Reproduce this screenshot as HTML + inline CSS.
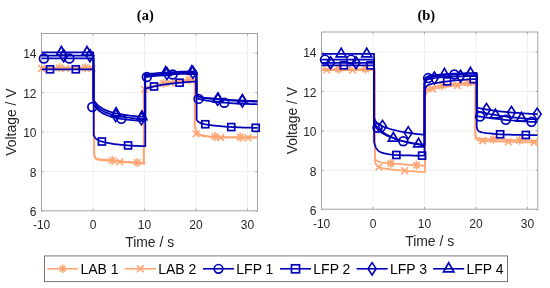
<!DOCTYPE html>
<html><head><meta charset="utf-8"><style>
html,body{margin:0;padding:0;background:#fff;width:550px;height:288px;overflow:hidden}
svg{display:block;position:absolute;left:0;top:0;filter:blur(0.3px)}
.tk{font-family:"Liberation Sans",sans-serif;font-size:12px;fill:#262626}
.lab{font-family:"Liberation Sans",sans-serif;font-size:13.9px;fill:#262626}
.lg{font-family:"Liberation Sans",sans-serif;font-size:14px;fill:#000}
.ttl{font-family:"Liberation Serif",serif;font-weight:bold;font-size:14.5px;fill:#000}
</style></head><body>
<svg width="550" height="288" viewBox="0 0 550 288">
<line x1="93.05" y1="33.50" x2="93.05" y2="210.80" stroke="#f0f0f0" stroke-width="1"/>
<line x1="144.53" y1="33.50" x2="144.53" y2="210.80" stroke="#f0f0f0" stroke-width="1"/>
<line x1="196.01" y1="33.50" x2="196.01" y2="210.80" stroke="#f0f0f0" stroke-width="1"/>
<line x1="247.49" y1="33.50" x2="247.49" y2="210.80" stroke="#f0f0f0" stroke-width="1"/>
<line x1="41.50" y1="171.60" x2="257.50" y2="171.60" stroke="#f0f0f0" stroke-width="1"/>
<line x1="41.50" y1="132.10" x2="257.50" y2="132.10" stroke="#f0f0f0" stroke-width="1"/>
<line x1="41.50" y1="92.60" x2="257.50" y2="92.60" stroke="#f0f0f0" stroke-width="1"/>
<line x1="41.50" y1="53.10" x2="257.50" y2="53.10" stroke="#f0f0f0" stroke-width="1"/>
<rect x="41.50" y="33.50" width="216.00" height="177.30" fill="none" stroke="#a4a4a4" stroke-width="1"/>
<line x1="41.57" y1="210.80" x2="41.57" y2="208.60" stroke="#a4a4a4" stroke-width="1"/>
<line x1="41.57" y1="33.50" x2="41.57" y2="35.70" stroke="#a4a4a4" stroke-width="1"/>
<line x1="93.05" y1="210.80" x2="93.05" y2="208.60" stroke="#a4a4a4" stroke-width="1"/>
<line x1="93.05" y1="33.50" x2="93.05" y2="35.70" stroke="#a4a4a4" stroke-width="1"/>
<line x1="144.53" y1="210.80" x2="144.53" y2="208.60" stroke="#a4a4a4" stroke-width="1"/>
<line x1="144.53" y1="33.50" x2="144.53" y2="35.70" stroke="#a4a4a4" stroke-width="1"/>
<line x1="196.01" y1="210.80" x2="196.01" y2="208.60" stroke="#a4a4a4" stroke-width="1"/>
<line x1="196.01" y1="33.50" x2="196.01" y2="35.70" stroke="#a4a4a4" stroke-width="1"/>
<line x1="247.49" y1="210.80" x2="247.49" y2="208.60" stroke="#a4a4a4" stroke-width="1"/>
<line x1="247.49" y1="33.50" x2="247.49" y2="35.70" stroke="#a4a4a4" stroke-width="1"/>
<line x1="41.50" y1="211.10" x2="43.70" y2="211.10" stroke="#a4a4a4" stroke-width="1"/>
<line x1="257.50" y1="211.10" x2="255.30" y2="211.10" stroke="#a4a4a4" stroke-width="1"/>
<line x1="41.50" y1="171.60" x2="43.70" y2="171.60" stroke="#a4a4a4" stroke-width="1"/>
<line x1="257.50" y1="171.60" x2="255.30" y2="171.60" stroke="#a4a4a4" stroke-width="1"/>
<line x1="41.50" y1="132.10" x2="43.70" y2="132.10" stroke="#a4a4a4" stroke-width="1"/>
<line x1="257.50" y1="132.10" x2="255.30" y2="132.10" stroke="#a4a4a4" stroke-width="1"/>
<line x1="41.50" y1="92.60" x2="43.70" y2="92.60" stroke="#a4a4a4" stroke-width="1"/>
<line x1="257.50" y1="92.60" x2="255.30" y2="92.60" stroke="#a4a4a4" stroke-width="1"/>
<line x1="41.50" y1="53.10" x2="43.70" y2="53.10" stroke="#a4a4a4" stroke-width="1"/>
<line x1="257.50" y1="53.10" x2="255.30" y2="53.10" stroke="#a4a4a4" stroke-width="1"/>
<clipPath id="clip41"><rect x="41.50" y="33.50" width="216.00" height="177.30"/></clipPath>
<path clip-path="url(#clip41)" d="M41.57,67.72 L42.86,67.72 L44.14,67.72 L45.43,67.72 L46.72,67.72 L48.01,67.72 L49.29,67.72 L50.58,67.72 L51.87,67.72 L53.15,67.72 L54.44,67.72 L55.73,67.72 L57.01,67.72 L58.30,67.72 L59.59,67.72 L60.88,67.72 L62.16,67.72 L63.45,67.72 L64.74,67.72 L66.02,67.72 L67.31,67.72 L68.60,67.72 L69.88,67.72 L71.17,67.72 L72.46,67.72 L73.75,67.72 L75.03,67.72 L76.32,67.72 L77.61,67.72 L78.89,67.72 L80.18,67.72 L81.47,67.72 L82.75,67.72 L84.04,67.72 L85.33,67.72 L86.61,67.72 L87.90,67.72 L89.19,67.72 L90.48,67.72 L91.76,67.72 L93.05,67.72 L94.18,67.72 L94.18,152.84 L94.29,153.56 L94.39,154.20 L94.49,154.76 L94.59,155.25 L94.70,155.68 L94.85,156.24 L95.01,156.69 L95.21,157.18 L95.47,157.63 L95.73,157.97 L95.98,158.22 L96.24,158.41 L96.76,158.66 L97.27,158.82 L97.79,158.93 L98.30,159.01 L98.82,159.08 L99.33,159.14 L100.36,159.26 L101.90,159.43 L104.48,159.70 L107.05,159.96 L109.63,160.21 L112.20,160.46 L114.77,160.69 L117.35,160.92 L119.92,161.14 L122.50,161.35 L125.07,161.56 L127.64,161.76 L130.22,161.95 L132.79,162.14 L135.37,162.32 L137.94,162.50 L140.51,162.66 L143.09,162.83 L144.53,162.92 L143.76,162.92 L143.76,89.64 L143.86,89.59 L143.96,89.54 L144.07,89.50 L144.17,89.45 L144.27,89.40 L144.43,89.33 L144.58,89.26 L144.79,89.17 L145.04,89.06 L145.30,88.95 L145.56,88.84 L145.82,88.73 L146.33,88.51 L146.85,88.30 L147.36,88.09 L147.88,87.89 L148.39,87.69 L148.91,87.49 L149.94,87.11 L151.48,86.57 L154.05,85.73 L156.63,84.97 L159.20,84.29 L161.78,83.67 L164.35,83.11 L166.92,82.61 L169.50,82.15 L172.07,81.73 L174.65,81.36 L177.22,81.02 L179.79,80.71 L182.37,80.43 L184.94,80.18 L187.52,79.95 L190.09,79.75 L192.66,79.56 L195.24,79.39 L196.01,79.34 L194.72,79.34 L194.72,124.20 L194.83,124.81 L194.93,125.39 L195.03,125.93 L195.13,126.44 L195.24,126.92 L195.39,127.59 L195.55,128.19 L195.75,128.92 L196.01,129.71 L196.27,130.40 L196.52,130.99 L196.78,131.50 L197.30,132.33 L197.81,132.96 L198.33,133.45 L198.84,133.84 L199.36,134.15 L199.87,134.40 L200.90,134.80 L202.44,135.22 L205.02,135.70 L207.59,136.04 L210.17,136.31 L212.74,136.51 L215.31,136.67 L217.89,136.80 L220.46,136.89 L223.04,136.97 L225.61,137.03 L228.19,137.07 L230.76,137.11 L233.33,137.14 L235.91,137.16 L238.48,137.18 L241.06,137.19 L243.63,137.20 L246.20,137.21 L248.78,137.21 L251.35,137.22 L253.93,137.22 L256.50,137.22 L257.79,137.23" fill="none" stroke="#ffa674" stroke-width="1.75" stroke-linejoin="round"/>
<path d="M59.43,63.18 L59.43,72.25 M54.90,67.72 L63.97,67.72 M56.19,64.48 L62.67,70.95 M56.19,70.95 L62.67,64.48" stroke="#ffa674" stroke-width="1.60"/>
<path d="M85.07,63.18 L85.07,72.25 M80.53,67.72 L89.61,67.72 M81.83,64.48 L88.31,70.95 M81.83,70.95 L88.31,64.48" stroke="#ffa674" stroke-width="1.60"/>
<path d="M112.30,155.93 L112.30,165.00 M107.77,160.47 L116.84,160.47 M109.06,157.23 L115.54,163.71 M109.06,163.71 L115.54,157.23" stroke="#ffa674" stroke-width="1.60"/>
<path d="M137.32,157.92 L137.32,166.99 M132.79,162.45 L141.86,162.45 M134.08,159.21 L140.56,165.69 M134.08,165.69 L140.56,159.21" stroke="#ffa674" stroke-width="1.60"/>
<path d="M163.58,78.74 L163.58,87.82 M159.04,83.28 L168.11,83.28 M160.34,80.04 L166.82,86.52 M160.34,86.52 L166.82,80.04" stroke="#ffa674" stroke-width="1.60"/>
<path d="M189.06,75.29 L189.06,84.36 M184.52,79.83 L193.60,79.83 M185.82,76.59 L192.30,83.07 M185.82,83.07 L192.30,76.59" stroke="#ffa674" stroke-width="1.60"/>
<path d="M214.80,132.11 L214.80,141.18 M210.26,136.64 L219.34,136.64 M211.56,133.40 L218.04,139.88 M211.56,139.88 L218.04,133.40" stroke="#ffa674" stroke-width="1.60"/>
<path d="M240.28,132.65 L240.28,141.72 M235.75,137.18 L244.82,137.18 M237.04,133.94 L243.52,140.42 M237.04,140.42 L243.52,133.94" stroke="#ffa674" stroke-width="1.60"/>
<path clip-path="url(#clip41)" d="M41.57,68.50 L42.86,68.50 L44.14,68.50 L45.43,68.50 L46.72,68.50 L48.01,68.50 L49.29,68.50 L50.58,68.50 L51.87,68.50 L53.15,68.50 L54.44,68.50 L55.73,68.50 L57.01,68.50 L58.30,68.50 L59.59,68.50 L60.88,68.50 L62.16,68.50 L63.45,68.50 L64.74,68.50 L66.02,68.50 L67.31,68.50 L68.60,68.50 L69.88,68.50 L71.17,68.50 L72.46,68.50 L73.75,68.50 L75.03,68.50 L76.32,68.50 L77.61,68.50 L78.89,68.50 L80.18,68.50 L81.47,68.50 L82.75,68.50 L84.04,68.50 L85.33,68.50 L86.61,68.50 L87.90,68.50 L89.19,68.50 L90.48,68.50 L91.76,68.50 L93.05,68.50 L94.18,68.50 L94.18,153.82 L94.29,154.53 L94.39,155.14 L94.49,155.68 L94.59,156.16 L94.70,156.57 L94.85,157.11 L95.01,157.55 L95.21,158.02 L95.47,158.46 L95.73,158.78 L95.98,159.02 L96.24,159.20 L96.76,159.45 L97.27,159.60 L97.79,159.71 L98.30,159.79 L98.82,159.86 L99.33,159.92 L100.36,160.04 L101.90,160.20 L104.48,160.46 L107.05,160.72 L109.63,160.97 L112.20,161.20 L114.77,161.44 L117.35,161.66 L119.92,161.87 L122.50,162.08 L125.07,162.29 L127.64,162.48 L130.22,162.67 L132.79,162.85 L135.37,163.03 L137.94,163.20 L140.51,163.36 L143.09,163.52 L144.53,163.61 L143.76,163.61 L143.76,90.62 L143.86,90.58 L143.96,90.53 L144.07,90.48 L144.17,90.44 L144.27,90.39 L144.43,90.32 L144.58,90.25 L144.79,90.16 L145.04,90.05 L145.30,89.93 L145.56,89.82 L145.82,89.71 L146.33,89.50 L146.85,89.29 L147.36,89.08 L147.88,88.87 L148.39,88.67 L148.91,88.48 L149.94,88.10 L151.48,87.55 L154.05,86.72 L156.63,85.96 L159.20,85.28 L161.78,84.66 L164.35,84.10 L166.92,83.59 L169.50,83.13 L172.07,82.72 L174.65,82.34 L177.22,82.00 L179.79,81.70 L182.37,81.42 L184.94,81.17 L187.52,80.94 L190.09,80.73 L192.66,80.55 L195.24,80.38 L196.01,80.33 L194.72,80.33 L194.72,125.19 L194.83,125.78 L194.93,126.33 L195.03,126.85 L195.13,127.34 L195.24,127.80 L195.39,128.43 L195.55,129.02 L195.75,129.71 L196.01,130.48 L196.27,131.13 L196.52,131.70 L196.78,132.19 L197.30,132.99 L197.81,133.61 L198.33,134.08 L198.84,134.46 L199.36,134.76 L199.87,135.01 L200.90,135.40 L202.44,135.81 L205.02,136.29 L207.59,136.64 L210.17,136.90 L212.74,137.11 L215.31,137.27 L217.89,137.39 L220.46,137.49 L223.04,137.56 L225.61,137.62 L228.19,137.67 L230.76,137.70 L233.33,137.73 L235.91,137.75 L238.48,137.77 L241.06,137.78 L243.63,137.79 L246.20,137.80 L248.78,137.81 L251.35,137.81 L253.93,137.81 L256.50,137.82 L257.79,137.82" fill="none" stroke="#ffa674" stroke-width="1.75" stroke-linejoin="round"/>
<path d="M38.17,65.10 L44.97,71.91 M38.17,71.91 L44.97,65.10" stroke="#ffa674" stroke-width="1.60"/>
<path d="M62.37,65.10 L69.17,71.91 M62.37,71.91 L69.17,65.10" stroke="#ffa674" stroke-width="1.60"/>
<path d="M88.62,65.10 L95.42,71.91 M88.62,71.91 L95.42,65.10" stroke="#ffa674" stroke-width="1.60"/>
<path d="M116.42,158.47 L123.22,165.27 M116.42,165.27 L123.22,158.47" stroke="#ffa674" stroke-width="1.60"/>
<path d="M141.13,85.99 L147.93,92.79 M141.13,92.79 L147.93,85.99" stroke="#ffa674" stroke-width="1.60"/>
<path d="M167.38,79.53 L174.18,86.33 M167.38,86.33 L174.18,79.53" stroke="#ffa674" stroke-width="1.60"/>
<path d="M192.61,130.44 L199.41,137.24 M192.61,137.24 L199.41,130.44" stroke="#ffa674" stroke-width="1.60"/>
<path d="M217.32,134.09 L224.12,140.89 M217.32,140.89 L224.12,134.09" stroke="#ffa674" stroke-width="1.60"/>
<path d="M244.60,134.40 L251.40,141.20 M244.60,141.20 L251.40,134.40" stroke="#ffa674" stroke-width="1.60"/>
<path clip-path="url(#clip41)" d="M41.57,58.43 L42.86,58.43 L44.14,58.43 L45.43,58.43 L46.72,58.43 L48.01,58.43 L49.29,58.43 L50.58,58.43 L51.87,58.43 L53.15,58.43 L54.44,58.43 L55.73,58.43 L57.01,58.43 L58.30,58.43 L59.59,58.43 L60.88,58.43 L62.16,58.43 L63.45,58.43 L64.74,58.43 L66.02,58.43 L67.31,58.43 L68.60,58.43 L69.88,58.43 L71.17,58.43 L72.46,58.43 L73.75,58.43 L75.03,58.43 L76.32,58.43 L77.61,58.43 L78.89,58.43 L80.18,58.43 L81.47,58.43 L82.75,58.43 L84.04,58.43 L85.33,58.43 L86.61,58.43 L87.90,58.43 L89.19,58.43 L90.48,58.43 L91.76,58.43 L93.05,58.43 L93.67,58.43 L93.67,104.05 L93.77,104.24 L93.87,104.42 L93.98,104.59 L94.08,104.77 L94.18,104.94 L94.34,105.19 L94.49,105.43 L94.70,105.75 L94.95,106.13 L95.21,106.49 L95.47,106.85 L95.73,107.19 L96.24,107.83 L96.76,108.43 L97.27,108.99 L97.79,109.51 L98.30,110.00 L98.82,110.46 L99.85,111.30 L101.39,112.40 L103.96,113.88 L106.54,115.06 L109.11,116.02 L111.69,116.81 L114.26,117.47 L116.83,118.04 L119.41,118.53 L121.98,118.96 L124.56,119.33 L127.13,119.66 L129.70,119.96 L132.28,120.23 L134.85,120.47 L137.43,120.69 L140.00,120.89 L142.57,121.07 L144.53,121.20 L145.30,121.20 L145.30,77.19 L145.41,77.18 L145.51,77.16 L145.61,77.15 L145.71,77.13 L145.82,77.12 L145.97,77.09 L146.13,77.07 L146.33,77.04 L146.59,77.00 L146.85,76.96 L147.10,76.93 L147.36,76.89 L147.88,76.82 L148.39,76.74 L148.91,76.67 L149.42,76.60 L149.94,76.53 L150.45,76.47 L151.48,76.34 L153.02,76.15 L155.60,75.85 L158.17,75.58 L160.75,75.33 L163.32,75.10 L165.89,74.89 L168.47,74.69 L171.04,74.51 L173.62,74.35 L176.19,74.20 L178.76,74.06 L181.34,73.93 L183.91,73.81 L186.49,73.70 L189.06,73.60 L191.63,73.51 L194.21,73.43 L196.01,73.37 L196.63,73.37 L196.63,98.13 L196.73,98.18 L196.83,98.23 L196.94,98.28 L197.04,98.32 L197.14,98.37 L197.30,98.43 L197.45,98.49 L197.66,98.57 L197.91,98.66 L198.17,98.75 L198.43,98.83 L198.69,98.91 L199.20,99.05 L199.72,99.19 L200.23,99.31 L200.75,99.43 L201.26,99.55 L201.78,99.66 L202.81,99.87 L204.35,100.16 L206.92,100.61 L209.50,101.01 L212.07,101.38 L214.65,101.71 L217.22,102.01 L219.79,102.28 L222.37,102.52 L224.94,102.74 L227.52,102.94 L230.09,103.12 L232.66,103.29 L235.24,103.43 L237.81,103.57 L240.39,103.69 L242.96,103.80 L245.53,103.90 L248.11,103.99 L250.68,104.07 L253.26,104.14 L255.83,104.21 L257.79,104.26" fill="none" stroke="#0000b8" stroke-width="1.75" stroke-linejoin="round"/>
<circle cx="43.89" cy="58.43" r="4.39" fill="none" stroke="#0000b8" stroke-width="1.70"/>
<circle cx="69.37" cy="58.43" r="4.39" fill="none" stroke="#0000b8" stroke-width="1.70"/>
<circle cx="92.28" cy="107.05" r="4.39" fill="none" stroke="#0000b8" stroke-width="1.70"/>
<circle cx="121.36" cy="118.85" r="4.39" fill="none" stroke="#0000b8" stroke-width="1.70"/>
<circle cx="146.85" cy="76.96" r="4.39" fill="none" stroke="#0000b8" stroke-width="1.70"/>
<circle cx="172.59" cy="74.42" r="4.39" fill="none" stroke="#0000b8" stroke-width="1.70"/>
<circle cx="198.58" cy="98.88" r="4.39" fill="none" stroke="#0000b8" stroke-width="1.70"/>
<circle cx="224.32" cy="102.69" r="4.39" fill="none" stroke="#0000b8" stroke-width="1.70"/>
<path clip-path="url(#clip41)" d="M41.57,69.29 L42.86,69.29 L44.14,69.29 L45.43,69.29 L46.72,69.29 L48.01,69.29 L49.29,69.29 L50.58,69.29 L51.87,69.29 L53.15,69.29 L54.44,69.29 L55.73,69.29 L57.01,69.29 L58.30,69.29 L59.59,69.29 L60.88,69.29 L62.16,69.29 L63.45,69.29 L64.74,69.29 L66.02,69.29 L67.31,69.29 L68.60,69.29 L69.88,69.29 L71.17,69.29 L72.46,69.29 L73.75,69.29 L75.03,69.29 L76.32,69.29 L77.61,69.29 L78.89,69.29 L80.18,69.29 L81.47,69.29 L82.75,69.29 L84.04,69.29 L85.33,69.29 L86.61,69.29 L87.90,69.29 L89.19,69.29 L90.48,69.29 L91.76,69.29 L93.05,69.29 L93.67,69.29 L93.67,135.06 L93.77,135.29 L93.87,135.52 L93.98,135.73 L94.08,135.93 L94.18,136.13 L94.34,136.41 L94.49,136.67 L94.70,137.00 L94.95,137.38 L95.21,137.72 L95.47,138.03 L95.73,138.31 L96.24,138.81 L96.76,139.23 L97.27,139.59 L97.79,139.91 L98.30,140.19 L98.82,140.44 L99.85,140.86 L101.39,141.39 L103.96,142.09 L106.54,142.68 L109.11,143.18 L111.69,143.62 L114.26,144.01 L116.83,144.35 L119.41,144.65 L121.98,144.92 L124.56,145.15 L127.13,145.36 L129.70,145.54 L132.28,145.70 L134.85,145.84 L137.43,145.97 L140.00,146.08 L142.57,146.18 L144.53,146.24 L145.30,146.24 L145.30,88.65 L145.41,88.62 L145.51,88.59 L145.61,88.56 L145.71,88.53 L145.82,88.50 L145.97,88.46 L146.13,88.42 L146.33,88.36 L146.59,88.29 L146.85,88.22 L147.10,88.15 L147.36,88.08 L147.88,87.94 L148.39,87.80 L148.91,87.67 L149.42,87.54 L149.94,87.41 L150.45,87.29 L151.48,87.04 L153.02,86.68 L155.60,86.13 L158.17,85.62 L160.75,85.15 L163.32,84.72 L165.89,84.33 L168.47,83.96 L171.04,83.62 L173.62,83.32 L176.19,83.03 L178.76,82.77 L181.34,82.53 L183.91,82.31 L186.49,82.11 L189.06,81.92 L191.63,81.75 L194.21,81.59 L196.01,81.48 L196.63,81.48 L196.63,119.26 L196.73,119.48 L196.83,119.69 L196.94,119.89 L197.04,120.07 L197.14,120.25 L197.30,120.49 L197.45,120.72 L197.66,120.99 L197.91,121.30 L198.17,121.56 L198.43,121.80 L198.69,122.01 L199.20,122.36 L199.72,122.65 L200.23,122.89 L200.75,123.09 L201.26,123.27 L201.78,123.43 L202.81,123.71 L204.35,124.06 L206.92,124.55 L209.50,124.98 L212.07,125.35 L214.65,125.68 L217.22,125.97 L219.79,126.23 L222.37,126.45 L224.94,126.65 L227.52,126.83 L230.09,126.98 L232.66,127.12 L235.24,127.24 L237.81,127.35 L240.39,127.44 L242.96,127.53 L245.53,127.60 L248.11,127.66 L250.68,127.72 L253.26,127.77 L255.83,127.82 L257.79,127.85" fill="none" stroke="#0000b8" stroke-width="1.75" stroke-linejoin="round"/>
<rect x="46.53" y="65.81" width="6.96" height="6.96" fill="none" stroke="#0000b8" stroke-width="1.70"/>
<rect x="72.32" y="65.81" width="6.96" height="6.96" fill="none" stroke="#0000b8" stroke-width="1.70"/>
<rect x="98.42" y="138.05" width="6.96" height="6.96" fill="none" stroke="#0000b8" stroke-width="1.70"/>
<rect x="124.58" y="141.94" width="6.96" height="6.96" fill="none" stroke="#0000b8" stroke-width="1.70"/>
<rect x="150.52" y="82.99" width="6.96" height="6.96" fill="none" stroke="#0000b8" stroke-width="1.70"/>
<rect x="176.06" y="79.22" width="6.96" height="6.96" fill="none" stroke="#0000b8" stroke-width="1.70"/>
<rect x="201.80" y="120.76" width="6.96" height="6.96" fill="none" stroke="#0000b8" stroke-width="1.70"/>
<rect x="227.79" y="123.57" width="6.96" height="6.96" fill="none" stroke="#0000b8" stroke-width="1.70"/>
<rect x="252.25" y="124.33" width="6.96" height="6.96" fill="none" stroke="#0000b8" stroke-width="1.70"/>
<path clip-path="url(#clip41)" d="M41.57,55.67 L42.86,55.67 L44.14,55.67 L45.43,55.67 L46.72,55.67 L48.01,55.67 L49.29,55.67 L50.58,55.67 L51.87,55.67 L53.15,55.67 L54.44,55.67 L55.73,55.67 L57.01,55.67 L58.30,55.67 L59.59,55.67 L60.88,55.67 L62.16,55.67 L63.45,55.67 L64.74,55.67 L66.02,55.67 L67.31,55.67 L68.60,55.67 L69.88,55.67 L71.17,55.67 L72.46,55.67 L73.75,55.67 L75.03,55.67 L76.32,55.67 L77.61,55.67 L78.89,55.67 L80.18,55.67 L81.47,55.67 L82.75,55.67 L84.04,55.67 L85.33,55.67 L86.61,55.67 L87.90,55.67 L89.19,55.67 L90.48,55.67 L91.76,55.67 L93.05,55.67 L93.46,55.67 L93.46,101.49 L93.56,101.67 L93.67,101.85 L93.77,102.03 L93.87,102.20 L93.98,102.37 L94.13,102.63 L94.29,102.87 L94.49,103.19 L94.75,103.58 L95.01,103.95 L95.26,104.30 L95.52,104.65 L96.04,105.30 L96.55,105.91 L97.07,106.47 L97.58,107.00 L98.10,107.50 L98.61,107.97 L99.64,108.83 L101.18,109.95 L103.76,111.48 L106.33,112.69 L108.91,113.67 L111.48,114.49 L114.05,115.17 L116.63,115.76 L119.20,116.27 L121.78,116.71 L124.35,117.10 L126.92,117.44 L129.50,117.75 L132.07,118.03 L134.65,118.28 L137.22,118.51 L139.79,118.71 L142.37,118.90 L144.53,119.05 L145.04,119.05 L145.04,75.81 L145.15,75.80 L145.25,75.78 L145.35,75.77 L145.46,75.75 L145.56,75.74 L145.71,75.72 L145.87,75.70 L146.07,75.67 L146.33,75.64 L146.59,75.60 L146.85,75.57 L147.10,75.53 L147.62,75.47 L148.13,75.40 L148.65,75.33 L149.16,75.27 L149.68,75.21 L150.19,75.15 L151.22,75.02 L152.77,74.85 L155.34,74.58 L157.91,74.33 L160.49,74.10 L163.06,73.89 L165.64,73.70 L168.21,73.52 L170.78,73.36 L173.36,73.20 L175.93,73.07 L178.51,72.94 L181.08,72.82 L183.65,72.71 L186.23,72.61 L188.80,72.52 L191.38,72.44 L193.95,72.36 L196.01,72.30 L196.42,72.30 L196.42,93.59 L196.52,93.82 L196.63,94.04 L196.73,94.24 L196.83,94.43 L196.94,94.62 L197.09,94.87 L197.25,95.10 L197.45,95.37 L197.71,95.67 L197.97,95.94 L198.22,96.16 L198.48,96.36 L199.00,96.68 L199.51,96.93 L200.03,97.13 L200.54,97.29 L201.06,97.43 L201.57,97.54 L202.60,97.74 L204.14,97.97 L206.72,98.30 L209.29,98.59 L211.87,98.86 L214.44,99.11 L217.01,99.35 L219.59,99.58 L222.16,99.79 L224.74,99.99 L227.31,100.18 L229.88,100.35 L232.46,100.52 L235.03,100.67 L237.61,100.82 L240.18,100.95 L242.75,101.08 L245.33,101.20 L247.90,101.31 L250.48,101.42 L253.05,101.52 L255.62,101.61 L257.79,101.69" fill="none" stroke="#0000b8" stroke-width="1.75" stroke-linejoin="round"/>
<path d="M63.71,49.65 L67.68,55.67 L63.71,61.68 L59.73,55.67 Z" fill="none" stroke="#0000b8" stroke-width="1.60"/>
<path d="M89.96,49.65 L93.94,55.67 L89.96,61.68 L85.98,55.67 Z" fill="none" stroke="#0000b8" stroke-width="1.60"/>
<path d="M115.70,109.53 L119.68,115.55 L115.70,121.56 L111.72,115.55 Z" fill="none" stroke="#0000b8" stroke-width="1.60"/>
<path d="M141.44,112.82 L145.42,118.84 L141.44,124.85 L137.46,118.84 Z" fill="none" stroke="#0000b8" stroke-width="1.60"/>
<path d="M166.92,67.60 L170.90,73.61 L166.92,79.62 L162.95,73.61 Z" fill="none" stroke="#0000b8" stroke-width="1.60"/>
<path d="M192.92,66.38 L196.90,72.39 L192.92,78.40 L188.94,72.39 Z" fill="none" stroke="#0000b8" stroke-width="1.60"/>
<path d="M217.63,93.39 L221.61,99.41 L217.63,105.42 L213.65,99.41 Z" fill="none" stroke="#0000b8" stroke-width="1.60"/>
<path d="M242.34,95.05 L246.32,101.06 L242.34,107.07 L238.36,101.06 Z" fill="none" stroke="#0000b8" stroke-width="1.60"/>
<path clip-path="url(#clip41)" d="M41.57,52.31 L42.86,52.31 L44.14,52.31 L45.43,52.31 L46.72,52.31 L48.01,52.31 L49.29,52.31 L50.58,52.31 L51.87,52.31 L53.15,52.31 L54.44,52.31 L55.73,52.31 L57.01,52.31 L58.30,52.31 L59.59,52.31 L60.88,52.31 L62.16,52.31 L63.45,52.31 L64.74,52.31 L66.02,52.31 L67.31,52.31 L68.60,52.31 L69.88,52.31 L71.17,52.31 L72.46,52.31 L73.75,52.31 L75.03,52.31 L76.32,52.31 L77.61,52.31 L78.89,52.31 L80.18,52.31 L81.47,52.31 L82.75,52.31 L84.04,52.31 L85.33,52.31 L86.61,52.31 L87.90,52.31 L89.19,52.31 L90.48,52.31 L91.76,52.31 L93.05,52.31 L93.26,52.31 L93.26,99.12 L93.36,99.30 L93.46,99.48 L93.56,99.65 L93.67,99.83 L93.77,100.00 L93.93,100.25 L94.08,100.49 L94.29,100.81 L94.54,101.19 L94.80,101.56 L95.06,101.91 L95.32,102.26 L95.83,102.91 L96.34,103.51 L96.86,104.08 L97.37,104.61 L97.89,105.11 L98.40,105.59 L99.43,106.45 L100.98,107.58 L103.55,109.13 L106.13,110.36 L108.70,111.36 L111.27,112.20 L113.85,112.90 L116.42,113.50 L119.00,114.02 L121.57,114.48 L124.14,114.88 L126.72,115.24 L129.29,115.55 L131.87,115.84 L134.44,116.10 L137.01,116.34 L139.59,116.55 L142.16,116.75 L144.53,116.91 L144.79,116.91 L144.79,74.43 L144.89,74.42 L144.99,74.40 L145.10,74.39 L145.20,74.38 L145.30,74.36 L145.46,74.35 L145.61,74.33 L145.82,74.30 L146.07,74.27 L146.33,74.24 L146.59,74.21 L146.85,74.18 L147.36,74.11 L147.88,74.05 L148.39,74.00 L148.91,73.94 L149.42,73.88 L149.94,73.82 L150.97,73.71 L152.51,73.56 L155.08,73.31 L157.66,73.08 L160.23,72.88 L162.81,72.68 L165.38,72.51 L167.95,72.35 L170.53,72.20 L173.10,72.06 L175.68,71.93 L178.25,71.82 L180.82,71.71 L183.40,71.61 L185.97,71.52 L188.55,71.44 L191.12,71.36 L193.69,71.29 L196.01,71.23 L196.22,71.23 L196.22,92.60 L196.32,92.87 L196.42,93.12 L196.52,93.36 L196.63,93.58 L196.73,93.79 L196.89,94.08 L197.04,94.35 L197.25,94.67 L197.50,95.02 L197.76,95.31 L198.02,95.57 L198.28,95.80 L198.79,96.16 L199.30,96.44 L199.82,96.66 L200.33,96.84 L200.85,96.98 L201.36,97.11 L202.39,97.30 L203.94,97.54 L206.51,97.86 L209.09,98.14 L211.66,98.40 L214.23,98.65 L216.81,98.88 L219.38,99.10 L221.96,99.30 L224.53,99.50 L227.10,99.68 L229.68,99.85 L232.25,100.01 L234.83,100.15 L237.40,100.30 L239.97,100.43 L242.55,100.55 L245.12,100.67 L247.70,100.78 L250.27,100.88 L252.84,100.98 L255.42,101.07 L257.79,101.15" fill="none" stroke="#0000b8" stroke-width="1.75" stroke-linejoin="round"/>
<path d="M61.39,46.55 L66.38,55.19 L56.40,55.19 Z" fill="none" stroke="#0000b8" stroke-width="1.70" stroke-linejoin="miter"/>
<path d="M87.03,46.55 L92.01,55.19 L82.04,55.19 Z" fill="none" stroke="#0000b8" stroke-width="1.70" stroke-linejoin="miter"/>
<path d="M116.11,107.67 L121.10,116.31 L111.12,116.31 Z" fill="none" stroke="#0000b8" stroke-width="1.70" stroke-linejoin="miter"/>
<path d="M141.90,110.97 L146.89,119.61 L136.92,119.61 Z" fill="none" stroke="#0000b8" stroke-width="1.70" stroke-linejoin="miter"/>
<path d="M165.64,66.73 L170.62,75.37 L160.65,75.37 Z" fill="none" stroke="#0000b8" stroke-width="1.70" stroke-linejoin="miter"/>
<path d="M191.89,65.58 L196.88,74.22 L186.90,74.22 Z" fill="none" stroke="#0000b8" stroke-width="1.70" stroke-linejoin="miter"/>
<path d="M218.15,93.23 L223.13,101.87 L213.16,101.87 Z" fill="none" stroke="#0000b8" stroke-width="1.70" stroke-linejoin="miter"/>
<path d="M242.34,94.78 L247.33,103.42 L237.35,103.42 Z" fill="none" stroke="#0000b8" stroke-width="1.70" stroke-linejoin="miter"/>
<text x="41.57" y="229.30" text-anchor="middle" class="tk">-10</text>
<text x="93.05" y="229.30" text-anchor="middle" class="tk">0</text>
<text x="144.53" y="229.30" text-anchor="middle" class="tk">10</text>
<text x="196.01" y="229.30" text-anchor="middle" class="tk">20</text>
<text x="247.49" y="229.30" text-anchor="middle" class="tk">30</text>
<text x="36.50" y="216.40" text-anchor="end" class="tk">6</text>
<text x="36.50" y="176.90" text-anchor="end" class="tk">8</text>
<text x="36.50" y="137.40" text-anchor="end" class="tk">10</text>
<text x="36.50" y="97.90" text-anchor="end" class="tk">12</text>
<text x="36.50" y="58.40" text-anchor="end" class="tk">14</text>
<text x="149.68" y="247.20" text-anchor="middle" class="lab">Time / s</text>
<text transform="translate(15.80,122.15) rotate(-90)" text-anchor="middle" class="lab">Voltage / V</text>
<text x="145.30" y="19.90" text-anchor="middle" class="ttl">(a)</text>
<line x1="373.05" y1="32.00" x2="373.05" y2="209.20" stroke="#f0f0f0" stroke-width="1"/>
<line x1="424.50" y1="32.00" x2="424.50" y2="209.20" stroke="#f0f0f0" stroke-width="1"/>
<line x1="475.95" y1="32.00" x2="475.95" y2="209.20" stroke="#f0f0f0" stroke-width="1"/>
<line x1="527.40" y1="32.00" x2="527.40" y2="209.20" stroke="#f0f0f0" stroke-width="1"/>
<line x1="321.50" y1="170.26" x2="537.80" y2="170.26" stroke="#f0f0f0" stroke-width="1"/>
<line x1="321.50" y1="130.82" x2="537.80" y2="130.82" stroke="#f0f0f0" stroke-width="1"/>
<line x1="321.50" y1="91.38" x2="537.80" y2="91.38" stroke="#f0f0f0" stroke-width="1"/>
<line x1="321.50" y1="51.94" x2="537.80" y2="51.94" stroke="#f0f0f0" stroke-width="1"/>
<rect x="321.50" y="32.00" width="216.30" height="177.20" fill="none" stroke="#a4a4a4" stroke-width="1"/>
<line x1="321.60" y1="209.20" x2="321.60" y2="207.00" stroke="#a4a4a4" stroke-width="1"/>
<line x1="321.60" y1="32.00" x2="321.60" y2="34.20" stroke="#a4a4a4" stroke-width="1"/>
<line x1="373.05" y1="209.20" x2="373.05" y2="207.00" stroke="#a4a4a4" stroke-width="1"/>
<line x1="373.05" y1="32.00" x2="373.05" y2="34.20" stroke="#a4a4a4" stroke-width="1"/>
<line x1="424.50" y1="209.20" x2="424.50" y2="207.00" stroke="#a4a4a4" stroke-width="1"/>
<line x1="424.50" y1="32.00" x2="424.50" y2="34.20" stroke="#a4a4a4" stroke-width="1"/>
<line x1="475.95" y1="209.20" x2="475.95" y2="207.00" stroke="#a4a4a4" stroke-width="1"/>
<line x1="475.95" y1="32.00" x2="475.95" y2="34.20" stroke="#a4a4a4" stroke-width="1"/>
<line x1="527.40" y1="209.20" x2="527.40" y2="207.00" stroke="#a4a4a4" stroke-width="1"/>
<line x1="527.40" y1="32.00" x2="527.40" y2="34.20" stroke="#a4a4a4" stroke-width="1"/>
<line x1="321.50" y1="209.70" x2="323.70" y2="209.70" stroke="#a4a4a4" stroke-width="1"/>
<line x1="537.80" y1="209.70" x2="535.60" y2="209.70" stroke="#a4a4a4" stroke-width="1"/>
<line x1="321.50" y1="170.26" x2="323.70" y2="170.26" stroke="#a4a4a4" stroke-width="1"/>
<line x1="537.80" y1="170.26" x2="535.60" y2="170.26" stroke="#a4a4a4" stroke-width="1"/>
<line x1="321.50" y1="130.82" x2="323.70" y2="130.82" stroke="#a4a4a4" stroke-width="1"/>
<line x1="537.80" y1="130.82" x2="535.60" y2="130.82" stroke="#a4a4a4" stroke-width="1"/>
<line x1="321.50" y1="91.38" x2="323.70" y2="91.38" stroke="#a4a4a4" stroke-width="1"/>
<line x1="537.80" y1="91.38" x2="535.60" y2="91.38" stroke="#a4a4a4" stroke-width="1"/>
<line x1="321.50" y1="51.94" x2="323.70" y2="51.94" stroke="#a4a4a4" stroke-width="1"/>
<line x1="537.80" y1="51.94" x2="535.60" y2="51.94" stroke="#a4a4a4" stroke-width="1"/>
<clipPath id="clip321"><rect x="321.50" y="32.00" width="216.30" height="177.20"/></clipPath>
<path clip-path="url(#clip321)" d="M321.60,69.10 L322.89,69.10 L324.17,69.10 L325.46,69.10 L326.75,69.10 L328.03,69.10 L329.32,69.10 L330.60,69.10 L331.89,69.10 L333.18,69.10 L334.46,69.10 L335.75,69.10 L337.04,69.10 L338.32,69.10 L339.61,69.10 L340.89,69.10 L342.18,69.10 L343.47,69.10 L344.75,69.10 L346.04,69.10 L347.32,69.10 L348.61,69.10 L349.90,69.10 L351.18,69.10 L352.47,69.10 L353.76,69.10 L355.04,69.10 L356.33,69.10 L357.62,69.10 L358.90,69.10 L360.19,69.10 L361.47,69.10 L362.76,69.10 L364.05,69.10 L365.33,69.10 L366.62,69.10 L367.91,69.10 L369.19,69.10 L370.48,69.10 L371.76,69.10 L373.05,69.10 L375.11,69.10 L375.11,158.43 L375.21,158.60 L375.31,158.77 L375.42,158.93 L375.52,159.08 L375.62,159.23 L375.78,159.43 L375.93,159.62 L376.14,159.86 L376.39,160.13 L376.65,160.36 L376.91,160.58 L377.17,160.77 L377.68,161.10 L378.19,161.36 L378.71,161.58 L379.22,161.77 L379.74,161.92 L380.25,162.05 L381.28,162.27 L382.83,162.51 L385.40,162.82 L387.97,163.08 L390.54,163.32 L393.12,163.54 L395.69,163.77 L398.26,163.98 L400.83,164.18 L403.41,164.38 L405.98,164.58 L408.55,164.76 L411.12,164.94 L413.70,165.12 L416.27,165.29 L418.84,165.45 L421.41,165.61 L423.99,165.76 L424.50,165.79 L425.01,165.79 L425.01,95.32 L425.12,94.86 L425.22,94.42 L425.32,94.01 L425.43,93.62 L425.53,93.26 L425.68,92.75 L425.84,92.30 L426.04,91.75 L426.30,91.15 L426.56,90.63 L426.82,90.19 L427.07,89.81 L427.59,89.19 L428.10,88.71 L428.62,88.35 L429.13,88.06 L429.64,87.82 L430.16,87.63 L431.19,87.31 L432.73,86.95 L435.30,86.47 L437.88,86.04 L440.45,85.65 L443.02,85.28 L445.59,84.93 L448.17,84.60 L450.74,84.30 L453.31,84.01 L455.88,83.74 L458.46,83.49 L461.03,83.25 L463.60,83.02 L466.17,82.81 L468.75,82.61 L471.32,82.43 L473.89,82.25 L475.95,82.12 L475.44,82.12 L475.44,134.76 L475.54,135.21 L475.64,135.61 L475.74,135.95 L475.85,136.26 L475.95,136.52 L476.10,136.86 L476.26,137.15 L476.46,137.44 L476.72,137.73 L476.98,137.93 L477.24,138.08 L477.49,138.20 L478.01,138.35 L478.52,138.44 L479.04,138.51 L479.55,138.55 L480.07,138.59 L480.58,138.63 L481.61,138.69 L483.15,138.78 L485.73,138.92 L488.30,139.06 L490.87,139.18 L493.44,139.30 L496.02,139.42 L498.59,139.53 L501.16,139.63 L503.73,139.73 L506.31,139.83 L508.88,139.92 L511.45,140.00 L514.02,140.08 L516.60,140.16 L519.17,140.23 L521.74,140.30 L524.31,140.37 L526.89,140.43 L529.46,140.49 L532.03,140.55 L534.60,140.60 L537.18,140.66 L537.69,140.67" fill="none" stroke="#ffa674" stroke-width="1.75" stroke-linejoin="round"/>
<path d="M338.89,64.56 L338.89,73.63 M334.35,69.10 L343.42,69.10 M335.65,65.86 L342.13,72.34 M335.65,72.34 L342.13,65.86" stroke="#ffa674" stroke-width="1.60"/>
<path d="M365.59,64.56 L365.59,73.63 M361.05,69.10 L370.13,69.10 M362.35,65.86 L368.83,72.34 M362.35,72.34 L368.83,65.86" stroke="#ffa674" stroke-width="1.60"/>
<path d="M390.80,158.80 L390.80,167.87 M386.26,163.34 L395.34,163.34 M387.56,160.10 L394.04,166.58 M387.56,166.58 L394.04,160.10" stroke="#ffa674" stroke-width="1.60"/>
<path d="M416.53,160.77 L416.53,169.84 M411.99,165.30 L421.06,165.30 M413.29,162.06 L419.77,168.54 M413.29,168.54 L419.77,162.06" stroke="#ffa674" stroke-width="1.60"/>
<path d="M441.99,80.89 L441.99,89.96 M437.46,85.43 L446.53,85.43 M438.75,82.19 L445.23,88.67 M438.75,88.67 L445.23,82.19" stroke="#ffa674" stroke-width="1.60"/>
<path d="M467.72,78.16 L467.72,87.23 M463.18,82.69 L472.25,82.69 M464.48,79.45 L470.96,85.93 M464.48,85.93 L470.96,79.45" stroke="#ffa674" stroke-width="1.60"/>
<path d="M493.44,134.77 L493.44,143.84 M488.91,139.30 L497.98,139.30 M490.20,136.06 L496.68,142.54 M490.20,142.54 L496.68,136.06" stroke="#ffa674" stroke-width="1.60"/>
<path d="M519.68,135.71 L519.68,144.78 M515.15,140.25 L524.22,140.25 M516.44,137.01 L522.92,143.49 M516.44,143.49 L522.92,137.01" stroke="#ffa674" stroke-width="1.60"/>
<path clip-path="url(#clip321)" d="M321.60,70.08 L322.89,70.08 L324.17,70.08 L325.46,70.08 L326.75,70.08 L328.03,70.08 L329.32,70.08 L330.60,70.08 L331.89,70.08 L333.18,70.08 L334.46,70.08 L335.75,70.08 L337.04,70.08 L338.32,70.08 L339.61,70.08 L340.89,70.08 L342.18,70.08 L343.47,70.08 L344.75,70.08 L346.04,70.08 L347.32,70.08 L348.61,70.08 L349.90,70.08 L351.18,70.08 L352.47,70.08 L353.76,70.08 L355.04,70.08 L356.33,70.08 L357.62,70.08 L358.90,70.08 L360.19,70.08 L361.47,70.08 L362.76,70.08 L364.05,70.08 L365.33,70.08 L366.62,70.08 L367.91,70.08 L369.19,70.08 L370.48,70.08 L371.76,70.08 L373.05,70.08 L375.11,70.08 L375.11,162.37 L375.21,162.63 L375.31,162.87 L375.42,163.10 L375.52,163.32 L375.62,163.54 L375.78,163.84 L375.93,164.11 L376.14,164.46 L376.39,164.85 L376.65,165.19 L376.91,165.50 L377.17,165.78 L377.68,166.25 L378.19,166.63 L378.71,166.95 L379.22,167.21 L379.74,167.42 L380.25,167.61 L381.28,167.90 L382.83,168.23 L385.40,168.63 L387.97,168.96 L390.54,169.26 L393.12,169.55 L395.69,169.82 L398.26,170.08 L400.83,170.33 L403.41,170.56 L405.98,170.79 L408.55,171.01 L411.12,171.22 L413.70,171.43 L416.27,171.62 L418.84,171.81 L421.41,171.98 L423.99,172.16 L424.50,172.19 L425.01,172.19 L425.01,97.30 L425.12,96.83 L425.22,96.39 L425.32,95.98 L425.43,95.59 L425.53,95.23 L425.68,94.73 L425.84,94.27 L426.04,93.72 L426.30,93.12 L426.56,92.61 L426.82,92.16 L427.07,91.78 L427.59,91.16 L428.10,90.69 L428.62,90.32 L429.13,90.03 L429.64,89.79 L430.16,89.60 L431.19,89.28 L432.73,88.92 L435.30,88.44 L437.88,88.01 L440.45,87.62 L443.02,87.25 L445.59,86.90 L448.17,86.58 L450.74,86.27 L453.31,85.98 L455.88,85.71 L458.46,85.46 L461.03,85.22 L463.60,85.00 L466.17,84.78 L468.75,84.59 L471.32,84.40 L473.89,84.23 L475.95,84.09 L475.44,84.09 L475.44,136.74 L475.54,137.19 L475.64,137.58 L475.74,137.93 L475.85,138.23 L475.95,138.50 L476.10,138.84 L476.26,139.12 L476.46,139.42 L476.72,139.70 L476.98,139.90 L477.24,140.06 L477.49,140.17 L478.01,140.32 L478.52,140.42 L479.04,140.48 L479.55,140.53 L480.07,140.57 L480.58,140.60 L481.61,140.66 L483.15,140.75 L485.73,140.89 L488.30,141.03 L490.87,141.15 L493.44,141.28 L496.02,141.39 L498.59,141.50 L501.16,141.60 L503.73,141.70 L506.31,141.80 L508.88,141.89 L511.45,141.97 L514.02,142.05 L516.60,142.13 L519.17,142.21 L521.74,142.28 L524.31,142.34 L526.89,142.40 L529.46,142.46 L532.03,142.52 L534.60,142.58 L537.18,142.63 L537.69,142.64" fill="none" stroke="#ffa674" stroke-width="1.75" stroke-linejoin="round"/>
<path d="M323.35,66.68 L330.14,73.48 M323.35,73.48 L330.14,66.68" stroke="#ffa674" stroke-width="1.60"/>
<path d="M349.07,66.68 L355.87,73.48 M349.07,73.48 L355.87,66.68" stroke="#ffa674" stroke-width="1.60"/>
<path d="M375.57,163.68 L382.37,170.48 M375.57,170.48 L382.37,163.68" stroke="#ffa674" stroke-width="1.60"/>
<path d="M401.29,167.28 L408.09,174.08 M401.29,174.08 L408.09,167.28" stroke="#ffa674" stroke-width="1.60"/>
<path d="M429.07,85.58 L435.87,92.38 M429.07,92.38 L435.87,85.58" stroke="#ffa674" stroke-width="1.60"/>
<path d="M454.03,82.16 L460.83,88.96 M454.03,88.96 L460.83,82.16" stroke="#ffa674" stroke-width="1.60"/>
<path d="M479.24,137.32 L486.04,144.12 M479.24,144.12 L486.04,137.32" stroke="#ffa674" stroke-width="1.60"/>
<path d="M504.96,138.47 L511.76,145.27 M504.96,145.27 L511.76,138.47" stroke="#ffa674" stroke-width="1.60"/>
<path d="M530.69,139.17 L537.49,145.97 M530.69,145.97 L537.49,139.17" stroke="#ffa674" stroke-width="1.60"/>
<path clip-path="url(#clip321)" d="M321.60,59.63 L322.89,59.63 L324.17,59.63 L325.46,59.63 L326.75,59.63 L328.03,59.63 L329.32,59.63 L330.60,59.63 L331.89,59.63 L333.18,59.63 L334.46,59.63 L335.75,59.63 L337.04,59.63 L338.32,59.63 L339.61,59.63 L340.89,59.63 L342.18,59.63 L343.47,59.63 L344.75,59.63 L346.04,59.63 L347.32,59.63 L348.61,59.63 L349.90,59.63 L351.18,59.63 L352.47,59.63 L353.76,59.63 L355.04,59.63 L356.33,59.63 L357.62,59.63 L358.90,59.63 L360.19,59.63 L361.47,59.63 L362.76,59.63 L364.05,59.63 L365.33,59.63 L366.62,59.63 L367.91,59.63 L369.19,59.63 L370.48,59.63 L371.76,59.63 L373.05,59.63 L374.08,59.63 L374.08,120.96 L374.18,121.29 L374.28,121.61 L374.39,121.92 L374.49,122.21 L374.59,122.50 L374.75,122.91 L374.90,123.30 L375.11,123.79 L375.37,124.36 L375.62,124.88 L375.88,125.37 L376.14,125.82 L376.65,126.64 L377.17,127.35 L377.68,128.00 L378.19,128.58 L378.71,129.11 L379.22,129.60 L380.25,130.48 L381.80,131.65 L384.37,133.33 L386.94,134.80 L389.51,136.12 L392.09,137.31 L394.66,138.38 L397.23,139.35 L399.80,140.23 L402.38,141.02 L404.95,141.74 L407.52,142.39 L410.09,142.98 L412.67,143.51 L415.24,143.99 L417.81,144.43 L420.38,144.82 L422.96,145.18 L424.50,145.37 L424.50,145.37 L424.50,82.51 L424.60,82.23 L424.71,81.96 L424.81,81.71 L424.91,81.48 L425.01,81.26 L425.17,80.95 L425.32,80.67 L425.53,80.33 L425.79,79.95 L426.04,79.63 L426.30,79.34 L426.56,79.09 L427.07,78.68 L427.59,78.35 L428.10,78.09 L428.62,77.87 L429.13,77.69 L429.64,77.52 L430.67,77.25 L432.22,76.92 L434.79,76.47 L437.36,76.09 L439.94,75.75 L442.51,75.46 L445.08,75.20 L447.65,74.97 L450.23,74.76 L452.80,74.58 L455.37,74.43 L457.94,74.29 L460.51,74.16 L463.09,74.05 L465.66,73.96 L468.23,73.87 L470.81,73.80 L473.38,73.73 L475.95,73.67 L476.72,73.67 L476.72,116.03 L476.82,116.05 L476.93,116.07 L477.03,116.08 L477.13,116.10 L477.24,116.12 L477.39,116.14 L477.54,116.17 L477.75,116.21 L478.01,116.25 L478.27,116.29 L478.52,116.34 L478.78,116.38 L479.29,116.46 L479.81,116.55 L480.32,116.63 L480.84,116.71 L481.35,116.79 L481.87,116.87 L482.90,117.03 L484.44,117.27 L487.01,117.64 L489.58,117.99 L492.16,118.33 L494.73,118.65 L497.30,118.96 L499.87,119.25 L502.45,119.52 L505.02,119.78 L507.59,120.03 L510.16,120.27 L512.74,120.50 L515.31,120.71 L517.88,120.92 L520.45,121.11 L523.03,121.30 L525.60,121.47 L528.17,121.64 L530.74,121.80 L533.32,121.95 L535.89,122.09 L537.69,122.19" fill="none" stroke="#0000b8" stroke-width="1.75" stroke-linejoin="round"/>
<circle cx="325.00" cy="59.63" r="4.39" fill="none" stroke="#0000b8" stroke-width="1.70"/>
<circle cx="351.08" cy="59.63" r="4.39" fill="none" stroke="#0000b8" stroke-width="1.70"/>
<circle cx="377.53" cy="127.80" r="4.39" fill="none" stroke="#0000b8" stroke-width="1.70"/>
<circle cx="403.30" cy="141.28" r="4.39" fill="none" stroke="#0000b8" stroke-width="1.70"/>
<circle cx="428.10" cy="78.09" r="4.39" fill="none" stroke="#0000b8" stroke-width="1.70"/>
<circle cx="454.34" cy="74.49" r="4.39" fill="none" stroke="#0000b8" stroke-width="1.70"/>
<circle cx="480.07" cy="116.59" r="4.39" fill="none" stroke="#0000b8" stroke-width="1.70"/>
<circle cx="505.79" cy="119.86" r="4.39" fill="none" stroke="#0000b8" stroke-width="1.70"/>
<circle cx="531.52" cy="121.84" r="4.39" fill="none" stroke="#0000b8" stroke-width="1.70"/>
<path clip-path="url(#clip321)" d="M321.60,65.35 L322.89,65.35 L324.17,65.35 L325.46,65.35 L326.75,65.35 L328.03,65.35 L329.32,65.35 L330.60,65.35 L331.89,65.35 L333.18,65.35 L334.46,65.35 L335.75,65.35 L337.04,65.35 L338.32,65.35 L339.61,65.35 L340.89,65.35 L342.18,65.35 L343.47,65.35 L344.75,65.35 L346.04,65.35 L347.32,65.35 L348.61,65.35 L349.90,65.35 L351.18,65.35 L352.47,65.35 L353.76,65.35 L355.04,65.35 L356.33,65.35 L357.62,65.35 L358.90,65.35 L360.19,65.35 L361.47,65.35 L362.76,65.35 L364.05,65.35 L365.33,65.35 L366.62,65.35 L367.91,65.35 L369.19,65.35 L370.48,65.35 L371.76,65.35 L373.05,65.35 L374.08,65.35 L374.08,141.67 L374.18,142.12 L374.28,142.55 L374.39,142.97 L374.49,143.36 L374.59,143.74 L374.75,144.28 L374.90,144.79 L375.11,145.41 L375.37,146.12 L375.62,146.76 L375.88,147.33 L376.14,147.85 L376.65,148.74 L377.17,149.48 L377.68,150.09 L378.19,150.61 L378.71,151.04 L379.22,151.42 L380.25,152.02 L381.80,152.68 L384.37,153.44 L386.94,153.96 L389.51,154.34 L392.09,154.64 L394.66,154.87 L397.23,155.04 L399.80,155.18 L402.38,155.29 L404.95,155.37 L407.52,155.44 L410.09,155.49 L412.67,155.53 L415.24,155.56 L417.81,155.58 L420.38,155.60 L422.96,155.62 L424.50,155.62 L424.50,155.62 L424.50,91.38 L424.60,90.97 L424.71,90.59 L424.81,90.23 L424.91,89.89 L425.01,89.57 L425.17,89.13 L425.32,88.73 L425.53,88.24 L425.79,87.71 L426.04,87.26 L426.30,86.86 L426.56,86.51 L427.07,85.95 L427.59,85.51 L428.10,85.17 L428.62,84.89 L429.13,84.66 L429.64,84.46 L430.67,84.14 L432.22,83.76 L434.79,83.24 L437.36,82.78 L439.94,82.36 L442.51,81.98 L445.08,81.63 L447.65,81.30 L450.23,81.00 L452.80,80.73 L455.37,80.48 L457.94,80.25 L460.51,80.03 L463.09,79.84 L465.66,79.66 L468.23,79.49 L470.81,79.34 L473.38,79.20 L475.95,79.07 L476.72,79.07 L476.72,126.88 L476.82,127.32 L476.93,127.71 L477.03,128.08 L477.13,128.41 L477.24,128.71 L477.39,129.12 L477.54,129.47 L477.75,129.87 L478.01,130.29 L478.27,130.62 L478.52,130.89 L478.78,131.12 L479.29,131.46 L479.81,131.71 L480.32,131.90 L480.84,132.06 L481.35,132.19 L481.87,132.30 L482.90,132.50 L484.44,132.76 L487.01,133.13 L489.58,133.44 L492.16,133.71 L494.73,133.93 L497.30,134.12 L499.87,134.28 L502.45,134.41 L505.02,134.53 L507.59,134.62 L510.16,134.71 L512.74,134.78 L515.31,134.83 L517.88,134.88 L520.45,134.93 L523.03,134.96 L525.60,134.99 L528.17,135.02 L530.74,135.04 L533.32,135.06 L535.89,135.07 L537.69,135.08" fill="none" stroke="#0000b8" stroke-width="1.75" stroke-linejoin="round"/>
<rect x="340.40" y="61.87" width="6.96" height="6.96" fill="none" stroke="#0000b8" stroke-width="1.70"/>
<rect x="367.10" y="61.87" width="6.96" height="6.96" fill="none" stroke="#0000b8" stroke-width="1.70"/>
<rect x="392.93" y="151.51" width="6.96" height="6.96" fill="none" stroke="#0000b8" stroke-width="1.70"/>
<rect x="418.60" y="152.13" width="6.96" height="6.96" fill="none" stroke="#0000b8" stroke-width="1.70"/>
<rect x="443.66" y="77.89" width="6.96" height="6.96" fill="none" stroke="#0000b8" stroke-width="1.70"/>
<rect x="470.15" y="75.70" width="6.96" height="6.96" fill="none" stroke="#0000b8" stroke-width="1.70"/>
<rect x="496.65" y="130.81" width="6.96" height="6.96" fill="none" stroke="#0000b8" stroke-width="1.70"/>
<rect x="522.38" y="131.51" width="6.96" height="6.96" fill="none" stroke="#0000b8" stroke-width="1.70"/>
<path clip-path="url(#clip321)" d="M321.60,62.79 L322.89,62.79 L324.17,62.79 L325.46,62.79 L326.75,62.79 L328.03,62.79 L329.32,62.79 L330.60,62.79 L331.89,62.79 L333.18,62.79 L334.46,62.79 L335.75,62.79 L337.04,62.79 L338.32,62.79 L339.61,62.79 L340.89,62.79 L342.18,62.79 L343.47,62.79 L344.75,62.79 L346.04,62.79 L347.32,62.79 L348.61,62.79 L349.90,62.79 L351.18,62.79 L352.47,62.79 L353.76,62.79 L355.04,62.79 L356.33,62.79 L357.62,62.79 L358.90,62.79 L360.19,62.79 L361.47,62.79 L362.76,62.79 L364.05,62.79 L365.33,62.79 L366.62,62.79 L367.91,62.79 L369.19,62.79 L370.48,62.79 L371.76,62.79 L373.05,62.79 L374.08,62.79 L374.08,117.02 L374.18,117.35 L374.28,117.68 L374.39,117.99 L374.49,118.28 L374.59,118.57 L374.75,118.97 L374.90,119.36 L375.11,119.83 L375.37,120.37 L375.62,120.86 L375.88,121.30 L376.14,121.71 L376.65,122.42 L377.17,123.02 L377.68,123.53 L378.19,123.98 L378.71,124.37 L379.22,124.72 L380.25,125.32 L381.80,126.06 L384.37,127.08 L386.94,127.96 L389.51,128.75 L392.09,129.47 L394.66,130.13 L397.23,130.74 L399.80,131.29 L402.38,131.81 L404.95,132.28 L407.52,132.72 L410.09,133.12 L412.67,133.48 L415.24,133.82 L417.81,134.14 L420.38,134.42 L422.96,134.69 L424.50,134.83 L424.50,134.83 L424.50,83.49 L424.60,83.22 L424.71,82.96 L424.81,82.72 L424.91,82.49 L425.01,82.28 L425.17,81.98 L425.32,81.71 L425.53,81.38 L425.79,81.02 L426.04,80.71 L426.30,80.45 L426.56,80.21 L427.07,79.83 L427.59,79.53 L428.10,79.30 L428.62,79.11 L429.13,78.95 L429.64,78.82 L430.67,78.60 L432.22,78.34 L434.79,78.00 L437.36,77.72 L439.94,77.47 L442.51,77.25 L445.08,77.05 L447.65,76.88 L450.23,76.73 L452.80,76.60 L455.37,76.48 L457.94,76.38 L460.51,76.29 L463.09,76.21 L465.66,76.14 L468.23,76.08 L470.81,76.02 L473.38,75.97 L475.95,75.93 L476.72,75.93 L476.72,107.16 L476.82,107.21 L476.93,107.27 L477.03,107.33 L477.13,107.38 L477.24,107.43 L477.39,107.50 L477.54,107.56 L477.75,107.65 L478.01,107.75 L478.27,107.83 L478.52,107.92 L478.78,108.00 L479.29,108.14 L479.81,108.27 L480.32,108.38 L480.84,108.49 L481.35,108.60 L481.87,108.70 L482.90,108.89 L484.44,109.16 L487.01,109.58 L489.58,109.97 L492.16,110.34 L494.73,110.68 L497.30,111.01 L499.87,111.31 L502.45,111.60 L505.02,111.87 L507.59,112.12 L510.16,112.35 L512.74,112.58 L515.31,112.79 L517.88,112.98 L520.45,113.17 L523.03,113.34 L525.60,113.50 L528.17,113.66 L530.74,113.80 L533.32,113.94 L535.89,114.06 L537.69,114.15" fill="none" stroke="#0000b8" stroke-width="1.75" stroke-linejoin="round"/>
<path d="M330.60,56.77 L334.58,62.79 L330.60,68.80 L326.63,62.79 Z" fill="none" stroke="#0000b8" stroke-width="1.60"/>
<path d="M356.07,56.77 L360.05,62.79 L356.07,68.80 L352.09,62.79 Z" fill="none" stroke="#0000b8" stroke-width="1.60"/>
<path d="M382.52,120.34 L386.49,126.35 L382.52,132.36 L378.54,126.35 Z" fill="none" stroke="#0000b8" stroke-width="1.60"/>
<path d="M408.29,126.82 L412.27,132.84 L408.29,138.85 L404.32,132.84 Z" fill="none" stroke="#0000b8" stroke-width="1.60"/>
<path d="M434.38,72.04 L438.36,78.06 L434.38,84.07 L430.40,78.06 Z" fill="none" stroke="#0000b8" stroke-width="1.60"/>
<path d="M460.51,70.28 L464.49,76.29 L460.51,82.30 L456.54,76.29 Z" fill="none" stroke="#0000b8" stroke-width="1.60"/>
<path d="M486.50,103.48 L490.47,109.50 L486.50,115.51 L482.52,109.50 Z" fill="none" stroke="#0000b8" stroke-width="1.60"/>
<path d="M511.45,106.45 L515.43,112.47 L511.45,118.48 L507.47,112.47 Z" fill="none" stroke="#0000b8" stroke-width="1.60"/>
<path d="M537.18,108.11 L541.15,114.12 L537.18,120.14 L533.20,114.12 Z" fill="none" stroke="#0000b8" stroke-width="1.60"/>
<path clip-path="url(#clip321)" d="M321.60,53.91 L322.89,53.91 L324.17,53.91 L325.46,53.91 L326.75,53.91 L328.03,53.91 L329.32,53.91 L330.60,53.91 L331.89,53.91 L333.18,53.91 L334.46,53.91 L335.75,53.91 L337.04,53.91 L338.32,53.91 L339.61,53.91 L340.89,53.91 L342.18,53.91 L343.47,53.91 L344.75,53.91 L346.04,53.91 L347.32,53.91 L348.61,53.91 L349.90,53.91 L351.18,53.91 L352.47,53.91 L353.76,53.91 L355.04,53.91 L356.33,53.91 L357.62,53.91 L358.90,53.91 L360.19,53.91 L361.47,53.91 L362.76,53.91 L364.05,53.91 L365.33,53.91 L366.62,53.91 L367.91,53.91 L369.19,53.91 L370.48,53.91 L371.76,53.91 L373.05,53.91 L374.08,53.91 L374.08,122.93 L374.18,123.25 L374.28,123.56 L374.39,123.85 L374.49,124.14 L374.59,124.41 L374.75,124.81 L374.90,125.18 L375.11,125.65 L375.37,126.18 L375.62,126.68 L375.88,127.14 L376.14,127.56 L376.65,128.33 L377.17,128.99 L377.68,129.58 L378.19,130.11 L378.71,130.59 L379.22,131.03 L380.25,131.82 L381.80,132.86 L384.37,134.33 L386.94,135.61 L389.51,136.76 L392.09,137.79 L394.66,138.72 L397.23,139.56 L399.80,140.33 L402.38,141.02 L404.95,141.64 L407.52,142.21 L410.09,142.72 L412.67,143.18 L415.24,143.60 L417.81,143.98 L420.38,144.32 L422.96,144.63 L424.50,144.80 L424.50,144.80 L424.50,79.55 L424.60,79.34 L424.71,79.14 L424.81,78.95 L424.91,78.78 L425.01,78.61 L425.17,78.38 L425.32,78.17 L425.53,77.92 L425.79,77.64 L426.04,77.39 L426.30,77.18 L426.56,76.99 L427.07,76.69 L427.59,76.44 L428.10,76.24 L428.62,76.08 L429.13,75.94 L429.64,75.82 L430.67,75.62 L432.22,75.38 L434.79,75.04 L437.36,74.76 L439.94,74.51 L442.51,74.29 L445.08,74.10 L447.65,73.93 L450.23,73.78 L452.80,73.64 L455.37,73.53 L457.94,73.42 L460.51,73.33 L463.09,73.25 L465.66,73.18 L468.23,73.12 L470.81,73.06 L473.38,73.01 L475.95,72.97 L476.72,72.97 L476.72,111.10 L476.82,111.13 L476.93,111.15 L477.03,111.18 L477.13,111.21 L477.24,111.23 L477.39,111.27 L477.54,111.31 L477.75,111.37 L478.01,111.43 L478.27,111.50 L478.52,111.56 L478.78,111.63 L479.29,111.76 L479.81,111.88 L480.32,112.01 L480.84,112.13 L481.35,112.25 L481.87,112.37 L482.90,112.61 L484.44,112.95 L487.01,113.50 L489.58,114.01 L492.16,114.49 L494.73,114.94 L497.30,115.37 L499.87,115.77 L502.45,116.14 L505.02,116.49 L507.59,116.82 L510.16,117.13 L512.74,117.42 L515.31,117.70 L517.88,117.96 L520.45,118.20 L523.03,118.42 L525.60,118.64 L528.17,118.84 L530.74,119.03 L533.32,119.20 L535.89,119.37 L537.69,119.48" fill="none" stroke="#0000b8" stroke-width="1.75" stroke-linejoin="round"/>
<path d="M341.15,48.15 L346.14,56.79 L336.16,56.79 Z" fill="none" stroke="#0000b8" stroke-width="1.70" stroke-linejoin="miter"/>
<path d="M366.72,48.15 L371.71,56.79 L361.73,56.79 Z" fill="none" stroke="#0000b8" stroke-width="1.70" stroke-linejoin="miter"/>
<path d="M393.32,132.48 L398.31,141.12 L388.33,141.12 Z" fill="none" stroke="#0000b8" stroke-width="1.70" stroke-linejoin="miter"/>
<path d="M418.58,138.32 L423.57,146.96 L413.60,146.96 Z" fill="none" stroke="#0000b8" stroke-width="1.70" stroke-linejoin="miter"/>
<path d="M444.41,68.39 L449.40,77.03 L439.42,77.03 Z" fill="none" stroke="#0000b8" stroke-width="1.70" stroke-linejoin="miter"/>
<path d="M470.50,67.31 L475.48,75.95 L465.51,75.95 Z" fill="none" stroke="#0000b8" stroke-width="1.70" stroke-linejoin="miter"/>
<path d="M495.50,109.31 L500.49,117.95 L490.51,117.95 Z" fill="none" stroke="#0000b8" stroke-width="1.70" stroke-linejoin="miter"/>
<path d="M521.48,112.53 L526.47,121.17 L516.50,121.17 Z" fill="none" stroke="#0000b8" stroke-width="1.70" stroke-linejoin="miter"/>
<text x="321.60" y="227.70" text-anchor="middle" class="tk">-10</text>
<text x="373.05" y="227.70" text-anchor="middle" class="tk">0</text>
<text x="424.50" y="227.70" text-anchor="middle" class="tk">10</text>
<text x="475.95" y="227.70" text-anchor="middle" class="tk">20</text>
<text x="527.40" y="227.70" text-anchor="middle" class="tk">30</text>
<text x="316.50" y="215.00" text-anchor="end" class="tk">6</text>
<text x="316.50" y="175.56" text-anchor="end" class="tk">8</text>
<text x="316.50" y="136.12" text-anchor="end" class="tk">10</text>
<text x="316.50" y="96.68" text-anchor="end" class="tk">12</text>
<text x="316.50" y="57.24" text-anchor="end" class="tk">14</text>
<text x="429.65" y="245.60" text-anchor="middle" class="lab">Time / s</text>
<text transform="translate(297.10,120.60) rotate(-90)" text-anchor="middle" class="lab">Voltage / V</text>
<text x="426.30" y="19.90" text-anchor="middle" class="ttl">(b)</text>
<rect x="44.50" y="255.90" width="463.00" height="25.70" fill="#fff" stroke="#777" stroke-width="1"/>
<line x1="47.20" y1="268.80" x2="78.20" y2="268.80" stroke="#ffa674" stroke-width="1.60"/>
<path d="M62.70,264.60 L62.70,273.00 M58.50,268.80 L66.90,268.80 M59.70,265.80 L65.70,271.80 M59.70,271.80 L65.70,265.80" stroke="#ffa674" stroke-width="1.60"/>
<text x="80.50" y="274.40" class="lg">LAB 1</text>
<line x1="124.90" y1="268.80" x2="155.90" y2="268.80" stroke="#ffa674" stroke-width="1.60"/>
<path d="M137.00,265.40 L143.80,272.20 M137.00,272.20 L143.80,265.40" stroke="#ffa674" stroke-width="1.60"/>
<text x="158.20" y="274.40" class="lg">LAB 2</text>
<line x1="203.00" y1="268.80" x2="234.00" y2="268.80" stroke="#0000b8" stroke-width="1.60"/>
<circle cx="218.50" cy="268.80" r="4.30" fill="none" stroke="#0000b8" stroke-width="1.70"/>
<text x="236.30" y="274.40" class="lg">LFP 1</text>
<line x1="280.00" y1="268.80" x2="311.00" y2="268.80" stroke="#0000b8" stroke-width="1.60"/>
<rect x="291.50" y="264.80" width="8.00" height="8.00" fill="none" stroke="#0000b8" stroke-width="1.70"/>
<text x="313.30" y="274.40" class="lg">LFP 2</text>
<line x1="356.60" y1="268.80" x2="387.60" y2="268.80" stroke="#0000b8" stroke-width="1.60"/>
<path d="M372.10,262.60 L376.20,268.80 L372.10,275.00 L368.00,268.80 Z" fill="none" stroke="#0000b8" stroke-width="1.60"/>
<text x="389.90" y="274.40" class="lg">LFP 3</text>
<line x1="433.20" y1="268.80" x2="464.20" y2="268.80" stroke="#0000b8" stroke-width="1.60"/>
<path d="M448.70,262.80 L453.90,271.80 L443.50,271.80 Z" fill="none" stroke="#0000b8" stroke-width="1.70" stroke-linejoin="miter"/>
<text x="466.50" y="274.40" class="lg">LFP 4</text>
</svg>
</body></html>
